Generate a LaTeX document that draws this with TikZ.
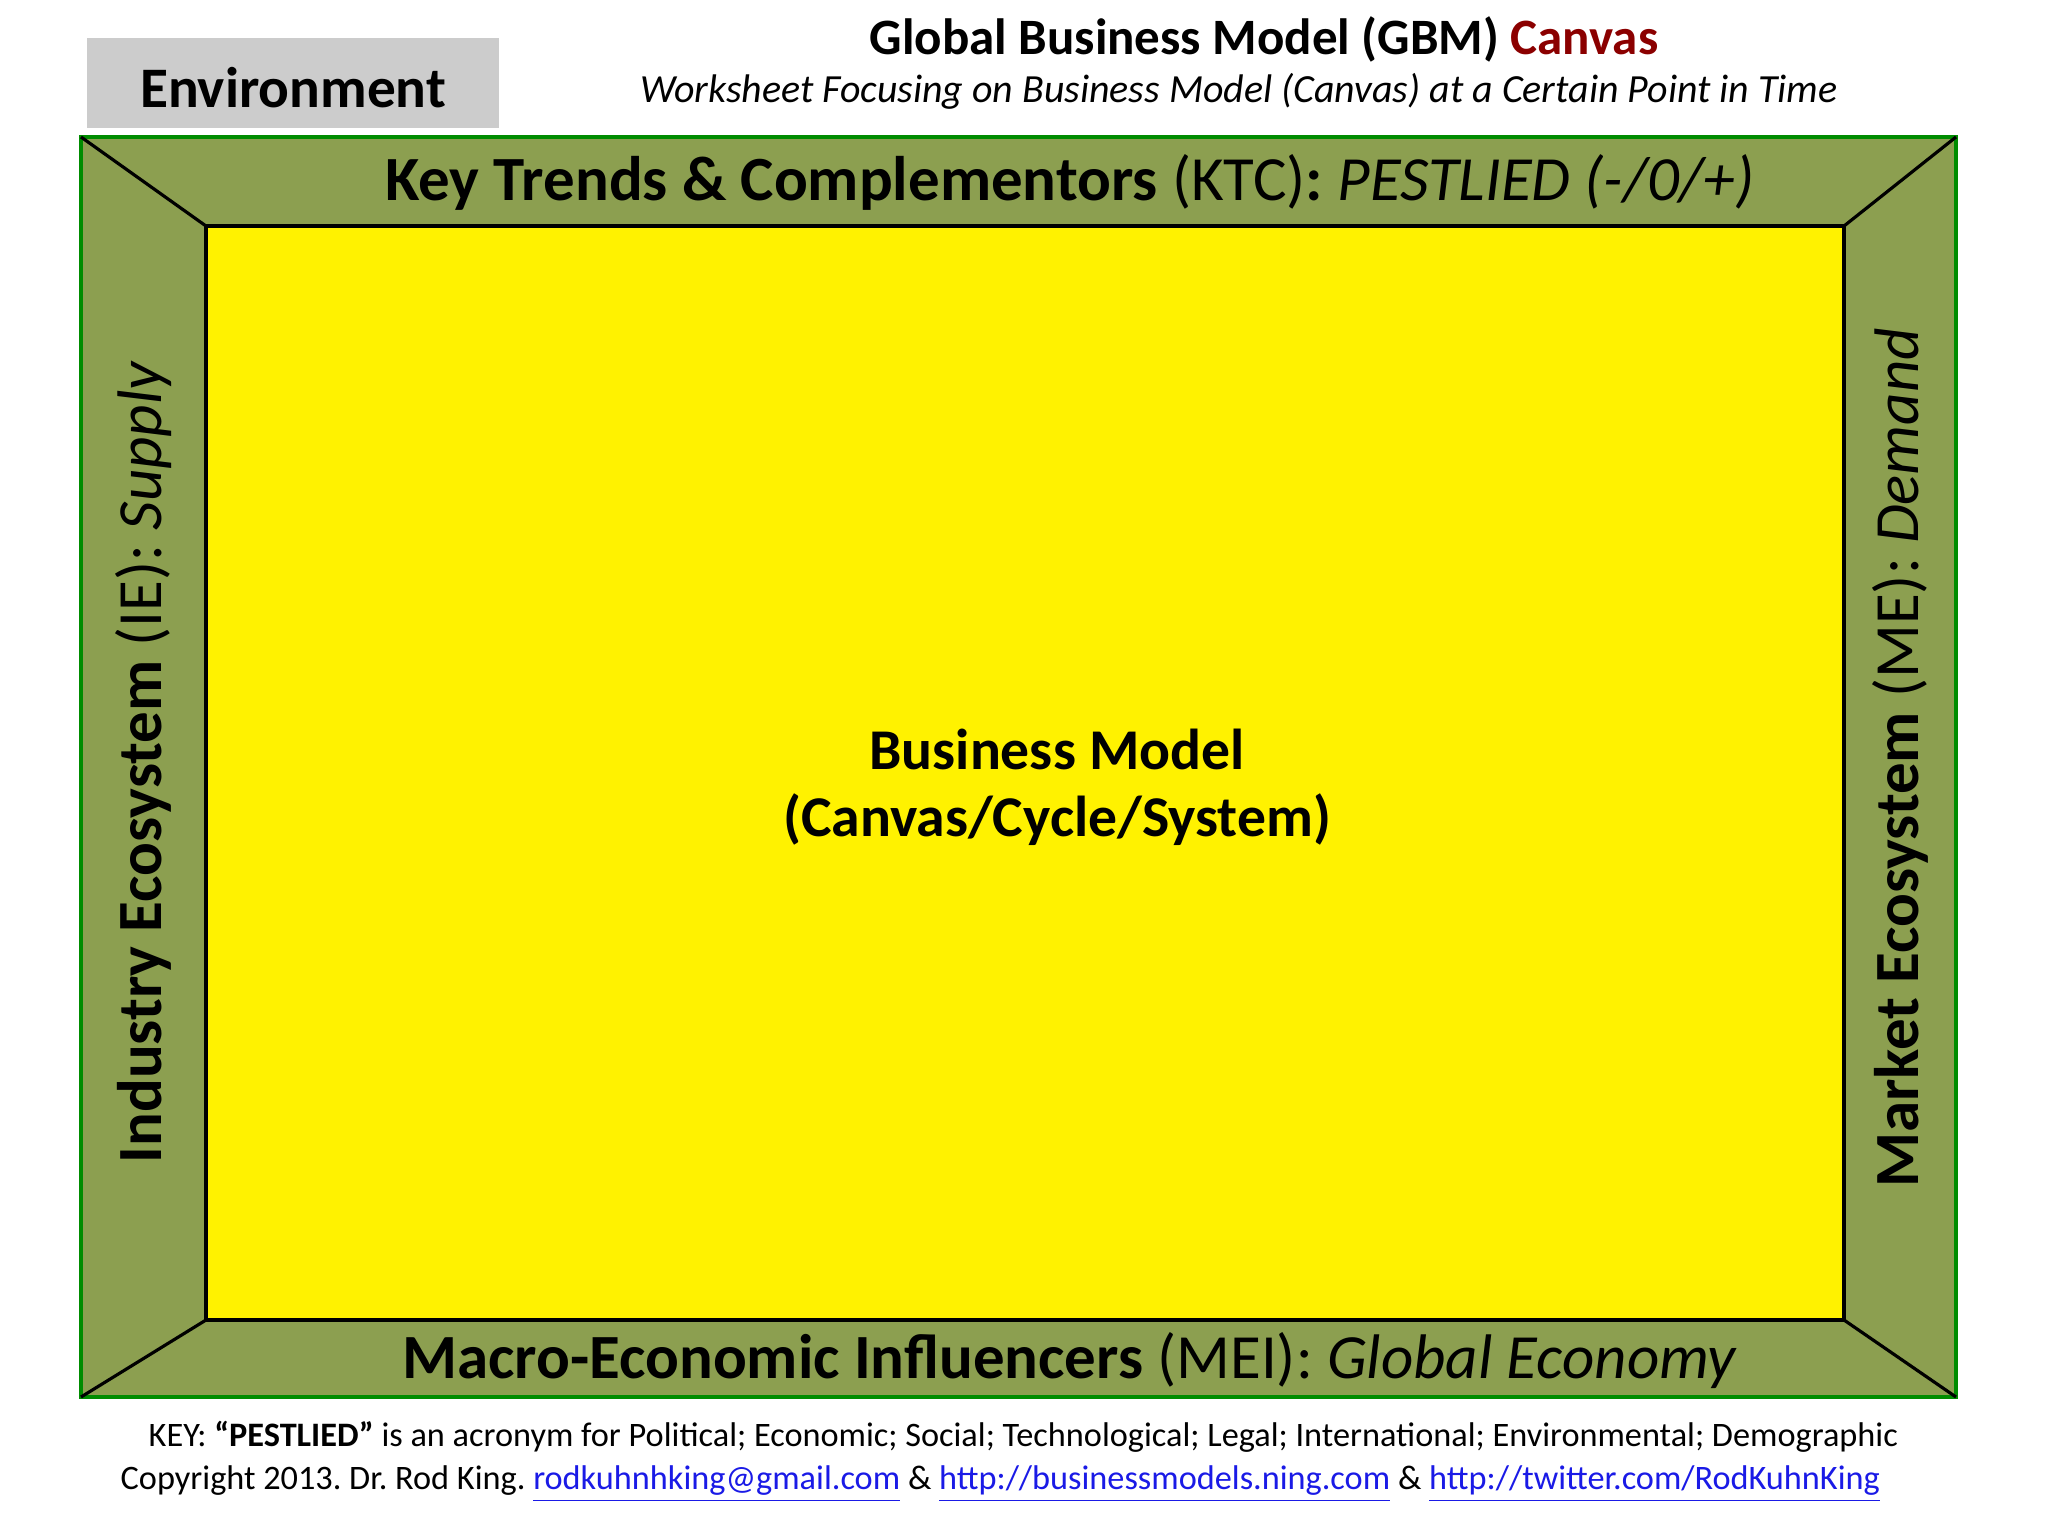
\documentclass[tikz,border=0pt]{standalone}
\usepackage{fontspec}
\setmainfont{Carlito}
\frenchspacing
\definecolor{envgray}{HTML}{CCCCCC}
\definecolor{bandgreen}{HTML}{8C9F50}
\definecolor{framegreen}{HTML}{008C00}
\definecolor{canvasred}{HTML}{8B0000}
\definecolor{linkblue}{HTML}{1A1AE6}
\newcommand{\weblink}[1]{\textcolor{linkblue}{\underline{#1}}}
\tikzset{
  band/.style={font=\fontsize{17.9}{21}\selectfont},
  footline/.style={anchor=west, inner sep=0pt, font=\fontsize{9.75}{12}\selectfont}
}
\begin{document}
\begin{tikzpicture}[x=0.01cm,y=-0.01cm]
  \useasboundingbox (0,0) rectangle (2048,1536);

  % Overskrift
  \fill[envgray] (87,38) rectangle (499,128);
  \node (env) at (293,88) {\fontsize{16.3}{19}\selectfont\bfseries Environment};
  \node (title) at (1264,39) {\fontsize{14.5}{17}\selectfont\bfseries Global Business Model (GBM) \textcolor{canvasred}{Canvas}};
  \node (subtitle) at (1239,91) {\fontsize{11.35}{14}\selectfont\itshape Worksheet Focusing on Business Model (Canvas) at a Certain Point in Time};

  % Ramme
  \coordinate (ytreNV) at (81,137);
  \coordinate (ytreNO) at (1956,137);
  \coordinate (ytreSO) at (1956,1397);
  \coordinate (ytreSV) at (81,1397);
  \coordinate (indreNV) at (206,226);
  \coordinate (indreNO) at (1844,226);
  \coordinate (indreSO) at (1844,1320);
  \coordinate (indreSV) at (206,1320);
  \draw[line width=1.3pt, draw=framegreen, fill=bandgreen] (ytreNV) rectangle (ytreSO);
  \draw[line width=0.9pt, fill=yellow] (indreNV) rectangle (indreSO);
  \foreach \hj in {NV,NO,SO,SV} {
    \draw[line width=0.9pt] (ytre\hj) -- (indre\hj);
  }

  % Sider
  \node[band] (ktc) at (1070,182) {\textbf{Key Trends \& Complementors} (KTC)\textbf{:} \textit{PESTLIED (-/0/+)}};
  \node[band] (mei) at (1070,1361) {\textbf{Macro-Economic Influencers} (MEI): \textit{Global Economy}};
  \node[band, rotate=90] (ie) at (144,762) {\textbf{Industry Ecosystem} (IE): \textit{Supply}};
  \node[band, rotate=90] (me) at (1900,758) {\textbf{Market Ecosystem} (ME): \textit{Demand}};

  % Midten
  \node[align=center, font=\fontsize{16.4}{19}\selectfont\bfseries] (bm) at (1057,787) {Business Model\\(Canvas/Cycle/System)};

  % Fotnote
  \node[footline] (key) at (148,1437) {KEY: \textbf{“PESTLIED”} is an acronym for Political; Economic; Social; Technological; Legal; International; Environmental; Demographic};
  \node[footline] (copy) at (120,1484) {Copyright 2013. Dr. Rod King. \weblink{rodkuhnhking@gmail.com} \& \weblink{http://businessmodels.ning.com} \& \weblink{http://twitter.com/RodKuhnKing}};
\end{tikzpicture}
\end{document}
